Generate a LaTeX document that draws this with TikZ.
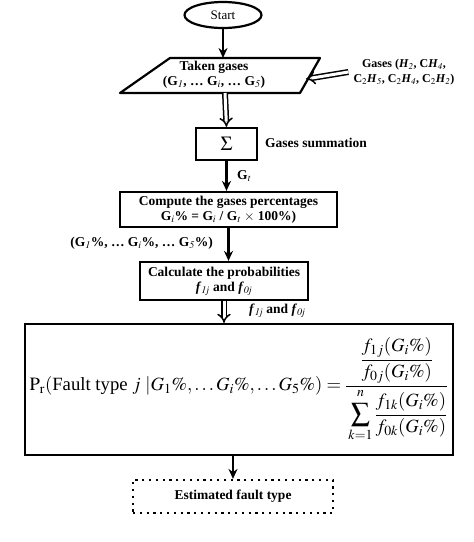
\documentclass[tikz,border=0pt]{standalone}
\usepackage{amsmath}
\usepackage{mathptmx}
\usepackage{fontspec}
\setmainfont{Liberation Serif}
\usetikzlibrary{shapes.geometric,arrows.meta}
\begin{document}
\begin{tikzpicture}[>={Stealth[length=10pt,width=9pt]},x=1pt,y=-1pt,
		box/.style={draw,line width=2.2pt,align=center,inner sep=0pt,font=\fontsize{13.5}{15}\selectfont\bfseries},
		txt/.style={align=center,inner sep=0pt,font=\fontsize{13.5}{15}\selectfont\bfseries},
		arr/.style={->,line width=2.2pt},
		hollow/.style={double,double distance=3pt,line width=1.5pt,-{Implies[length=7pt]}}]
				\useasboundingbox (0,0) rectangle (474,542);
				% start and input
				\node[draw,ellipse,line width=2.2pt,minimum width=77pt,minimum height=26pt,inner sep=0pt,font=\fontsize{13}{14}\selectfont] (start) at (223,15) {Start};
				\draw[line width=2.2pt,line join=round] (170,58)--(320,58)--(300,93)--(120,93)--cycle;
				\coordinate (takentop) at (223,58);
				\coordinate (takenbot) at (225,93);
				\coordinate (takenright) at (306,79);
				\node[txt] (taken) at (214,75) {Taken gases\\(G$_{\mathit{1}}$, \dots\ G$_{\mathit{i}}$, \dots\ G$_{\mathit{5}}$)};
				\node[txt,font=\fontsize{12}{15}\selectfont\bfseries] (gases) at (404,72) {Gases (\textit{H}$_{\mathit 2}$, C\textit{H}$_{\mathit 4}$,\\C$_2$\textit{H}$_{\mathit 5}$, C$_2$\textit{H}$_{\mathit 4}$, C$_2$\textit{H}$_{\mathit 2}$)};
				% summation
				\node[box,minimum width=61pt,minimum height=32pt] (sum) at (226.5,144) {\fontsize{20}{22}\selectfont$\Sigma$};
				\node[txt,anchor=west] (sumlabel) at (265,143) {Gases summation};
				% percentages
				\node[box,minimum width=217pt,minimum height=35pt] (comp) at (228.5,209.5) {Compute the gases percentages\\G$_{\mathit i}$\% = G$_{\mathit i}$ / G$_{\mathit t}$ $\times$ 100\%)};
				\node[txt,anchor=west] (gt) at (237,176) {G$_{\mathit t}$};
				\node[txt,anchor=east] (perc) at (213,243) {(G$_{\mathit 1}$\%, \dots\ G$_{\mathit i}$\%, \dots\ G$_{\mathit 5}$\%)};
				% probabilities
				\node[box,minimum width=168pt,minimum height=38pt] (calc) at (224,281) {Calculate the probabilities\\\textit{f}$_{\mathit{1j}}$ and \textit{f}$_{\mathit{0j}}$};
				\node[txt,anchor=west] (flabel) at (249,311) {\textit{f}$_{\mathit{1j}}$ and \textit{f}$_{\mathit{0j}}$};
				% bayes formula
				\node[draw,line width=2.2pt,minimum width=428pt,minimum height=131pt,inner sep=0pt,font=\fontsize{18.7}{22}\selectfont] (bayes) at (239,389.5)
					{$\mathrm{P_r}(\text{Fault type }j\ |G_1\%,\ldots G_i\%,\ldots G_5\%)=\dfrac{\dfrac{f_{1j}(G_i\%)}{f_{0j}(G_i\%)}}{\rule{0pt}{30pt}\displaystyle\sum_{k=1}^{\raisebox{3pt}{$\scriptstyle n$}}\frac{f_{1k}(G_i\%)}{f_{0k}(G_i\%)}}$};
				% result
				\node[box,dash pattern=on 2.2pt off 4.6pt,minimum width=200pt,minimum height=33pt] (est) at (233,496.5) {Estimated fault type};
				% connectors
				\draw[arr] (start) -- (takentop);
				\draw[hollow] (takenbot) -- (sum.north);
				\draw[hollow] ([xshift=-5pt]gases.west) -- (takenright);
				\draw[arr] (sum.south) -- (sum.south|-comp.north);
				\draw[arr] (comp.south) -- (comp.south|-calc.north);
				\draw[hollow] (calc.south) -- (calc.south|-bayes.north);
				\draw[arr] (est.north|-bayes.south) -- (est.north);
		\end{tikzpicture}
\end{document}
